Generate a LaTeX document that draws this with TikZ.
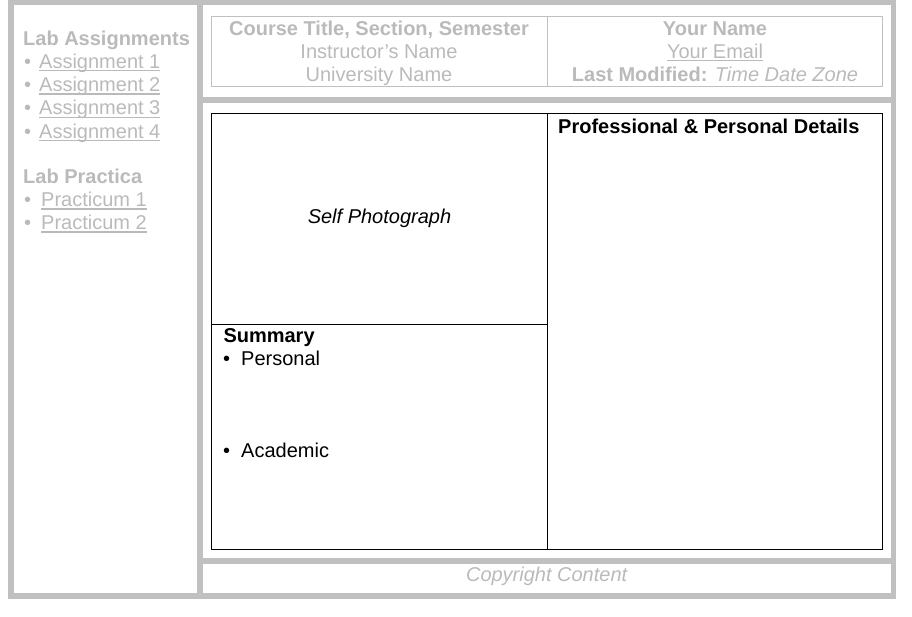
\documentclass[tikz,border=0pt]{standalone}
\usepackage{fontspec}
\setmainfont{Liberation Sans}
\definecolor{framegray}{RGB}{192,192,192}
\definecolor{textgray}{RGB}{186,186,186}
% underlined link text, rule crossing the descenders
\newcommand{\lnk}[1]{\setbox0\hbox{#1}\rlap{\rule[-3pt]{\wd0}{1.3pt}}\box0}

\tikzset{
  frame/.style={draw=framegray, line width=5.4pt},
  panel/.style={draw=framegray, line width=1pt},
  cell/.style={draw=black, line width=1pt},
  txt/.style={inner sep=0pt, font=\fontsize{20}{23}\selectfont},
  side/.style={txt, text=textgray, anchor=base west},
  head/.style={txt, text=textgray, anchor=base},
}

\begin{document}
\begin{tikzpicture}[x=1pt, y=-1pt]
  \useasboundingbox (0,0) rectangle (912,616);
  % outer frame and dividers
  \draw[frame] (11,2.4) rectangle (893.4,596);
  \draw[frame] (200,2.4) -- (200,596);
  \draw[frame] (200,100) -- (893.4,100);
  \draw[frame] (200,561) -- (893.4,561);
  % header box
  \draw[panel] (211,16) rectangle (882.3,86);
  \draw[panel] (547.3,16) -- (547.3,86);
  % content box
  \draw[cell] (211,113.3) rectangle (882.3,549.3);
  \draw[cell] (547,113.3) -- (547,549.3);
  \draw[cell] (211,324.3) -- (547,324.3);

  % sidebar
  \node[side] (labs) at (23,45.3) {\textbf{Lab Assignments}};
  \node[side] (as1) at (24,68.3) {\textbullet\hspace{8pt}\lnk{Assignment 1}};
  \node[side] (as2) at (24,91.6) {\textbullet\hspace{8pt}\lnk{Assignment 2}};
  \node[side] (as3) at (24,114.9) {\textbullet\hspace{8pt}\lnk{Assignment 3}};
  \node[side] (as4) at (24,138.2) {\textbullet\hspace{8pt}\lnk{Assignment 4}};
  \node[side] (prac) at (23,183.5) {\textbf{Lab Practica}};
  \node[side] (pr1) at (24,206.7) {\textbullet\hspace{10pt}\lnk{Practicum 1}};
  \node[side] (pr2) at (24,229.7) {\textbullet\hspace{10pt}\lnk{Practicum 2}};

  % header
  \node[head] (course) at (379,35) {\textbf{Course Title, Section, Semester}};
  \node[head] (instr) at (379,58) {Instructor’s Name};
  \node[head] (univ) at (379,81) {University Name};
  \node[head] (name) at (715,35) {\textbf{Your Name}};
  \node[head] (email) at (715,58) {\lnk{Your Email}};
  \node[head] (modif) at (715,81) {\textbf{Last Modified:} \textit{Time Date Zone}};

  % content
  \node[txt, anchor=base] (photo) at (379.5,223.3) {\textit{Self Photograph}};
  \node[txt, anchor=base west] (summ) at (223.3,342.5) {\textbf{Summary}};
  \node[txt, anchor=base west] (pers) at (223,365.7) {\textbullet\hspace{11pt}Personal};
  \node[txt, anchor=base west] (acad) at (223,457.3) {\textbullet\hspace{11pt}Academic};
  \node[txt, anchor=base west] (details) at (558,133) {\textbf{Professional \& Personal Details}};

  % footer
  \node[head] (copy) at (547,581.7) {\textit{Copyright Content}};
\end{tikzpicture}
\end{document}
